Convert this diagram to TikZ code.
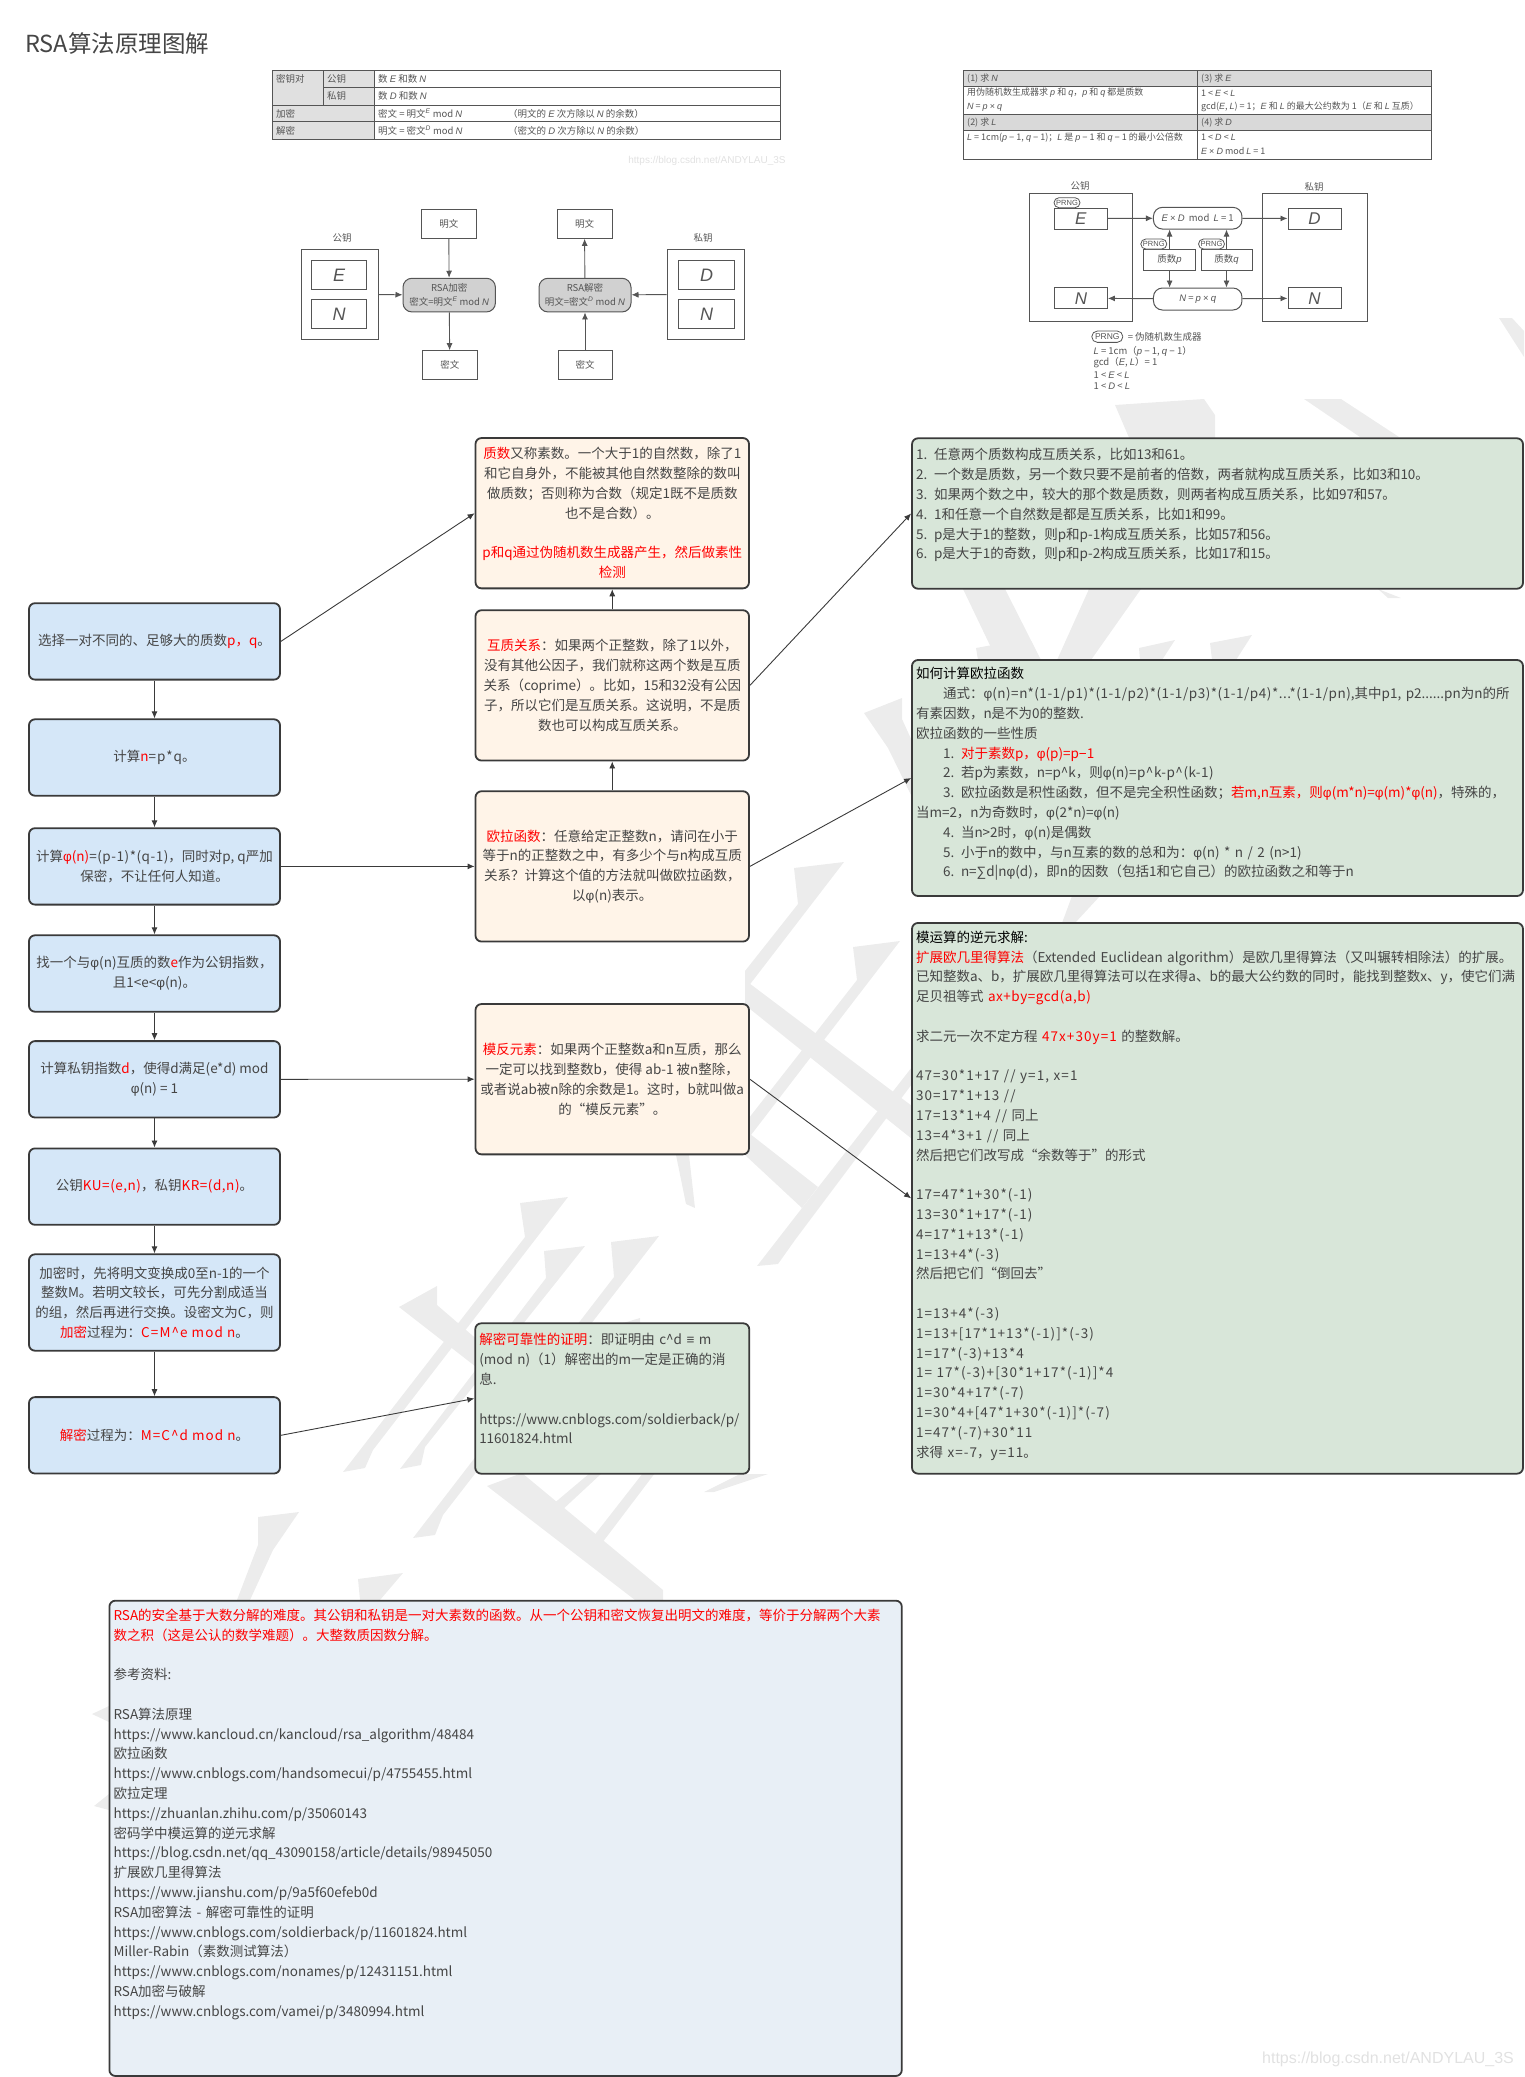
\documentclass[tikz,border=0pt]{standalone}
\usepackage{xcolor}
\usepackage{fontspec}
\setmainfont{Noto Sans CJK SC}
\newfontfamily\ltnfont{Liberation Sans}
\usetikzlibrary{calc}
\usetikzlibrary{arrows.meta}
\usetikzlibrary{positioning}
\hyphenpenalty=10000
\exhyphenpenalty=10000
\definecolor{flowblue}{HTML}{D5E7F8}
\definecolor{noteorange}{HTML}{FFF4E8}
\definecolor{notegreen}{HTML}{D8E6D9}
\definecolor{refblue}{HTML}{E8EFF6}
\definecolor{edgegray}{HTML}{3A3A3A}
\definecolor{textgray}{HTML}{454545}
\definecolor{wmgray}{HTML}{ECECEC}
\definecolor{scangray}{HTML}{555555}
\newcommand{\rd}[1]{\textcolor{red}{#1}}
\newcommand{\iv}[1]{{\ltnfont\itshape #1}}
\newcommand{\lt}[1]{{\ltnfont #1}}
\newcommand{\ph}{{\ltnfont φ}}
\newcommand{\pw}{\textasciicircum{}}
\newcommand{\fm}[1]{{\addfontfeature{LetterSpace=8}#1}}
\newcommand{\fs}[1]{{\addfontfeature{LetterSpace=4}#1}}
\tikzset{>=latex}
\tikzstyle{fontmain} = [font = \fontsize{13.5}{19.8}\selectfont]
\tikzstyle{box} = [draw = edgegray, line width = 1.8, rounded corners = 6, inner sep = 4, fontmain, text = textgray, align = center]
\tikzstyle{flowbox} = [box, fill = flowblue, minimum width = 251, minimum height = 76.4]
\tikzstyle{midbox} = [box, fill = noteorange, minimum width = 273.5, minimum height = 150.3]
\tikzstyle{notebox} = [box, fill = notegreen, align = left]
\tikzstyle{link} = [-{Latex[length = 7, width = 6]}, draw = edgegray, line width = 0.9]
\tikzstyle{scantxt} = [font = \fontsize{9.5}{14}\selectfont, text = scangray, inner sep = 0]
\tikzstyle{tabtxt} = [scantxt, anchor = west]
\tikzstyle{scanbox} = [draw = scangray, line width = 1, scantxt, fill = white]
\tikzstyle{scanpill} = [scanbox, rounded corners = 9, fill = white]
\tikzstyle{scanlink} = [-{Latex[length = 7, width = 6]}, draw = scangray, line width = 0.9]
\tikzstyle{prng} = [draw = scangray, line width = 0.8, rounded corners = 5, inner sep = 0, minimum width = 26, minimum height = 10, font = \fontsize{7.5}{9}\selectfont\ltnfont, text = scangray, fill = white]
\tikzstyle{markurl} = [font = \ltnfont\fontsize{10}{12}\selectfont, text = wmgray!90!gray, inner sep = 0]

\begin{document}
\begin{tikzpicture}[x = 1pt, y = -1pt]
\useasboundingbox (0, 0) rectangle (1524, 2077);

% watermark behind the boxes
\fill [wmgray] (520,1203) -- (568,1197) -- (373,1450) -- (365,1468) -- (343,1472) -- (525,1237) -- cycle;
\fill [wmgray] (544,1251) -- (585,1246) -- (425,1447) -- (421,1465) -- (400,1469) -- (546,1278) -- cycle;
\fill [wmgray] (611,1242) -- (659,1236) -- (443,1515) -- (435,1535) -- (413,1538) -- (614,1277) -- cycle;
\fill [wmgray] (399,1307) -- (437,1286) -- (437,1305) -- (480,1342) -- (480,1370) -- cycle;
\fill [wmgray] (487,1486) -- (522,1473) -- (663,1590) -- (663,1600) -- (635,1600) -- cycle;
\fill [wmgray] (552,1505) -- (590,1473) -- (602,1473) -- (560,1512) -- cycle;
\fill [wmgray] (593,1537) -- (643,1473) -- (655,1473) -- (602,1543) -- cycle;
\fill [wmgray] (623,1323) -- (640,1318) -- (640,1323) -- cycle;
\fill [wmgray] (704,1492) -- (714,1492) -- (768,1474) -- (740,1474) -- cycle;
\fill [wmgray] (258,1517) -- (299,1512) -- (273,1550) -- (250,1600) -- (237,1600) -- (258,1545) -- cycle;
\fill [wmgray] (358,1579) -- (403,1573) -- (380,1600) -- (360,1600) -- cycle;
\fill [wmgray] (92,1714) -- (109,1706) -- (109,1722) -- cycle;
\fill [wmgray] (94,1806) -- (109,1794) -- (109,1810) -- cycle;
\fill [wmgray] (1499,318) -- (1512,318) -- (1524,331) -- (1524,357) -- cycle;
\fill [wmgray] (1115,405) -- (1204,399) -- (1215,415) -- (1215,440) -- (1130,440) -- cycle;
\fill [wmgray] (1304,399) -- (1341,399) -- (1399,437) -- (1360,437) -- cycle;
\fill [wmgray] (963,589) -- (1005,589) -- (1041,660) -- (997,660) -- cycle;
\fill [wmgray] (1089,589) -- (1141,589) -- (1091,660) -- (1057,660) -- cycle;
\fill [wmgray] (1378,589) -- (1401,598) -- (1388,598) -- cycle;
\fill [wmgray] (976,648) -- (1020,640) -- (1010,660) -- (978,660) -- cycle;
\fill [wmgray] (1139,648) -- (1175,640) -- (1162,660) -- (1140,660) -- cycle;
\fill [wmgray] (1210,643) -- (1252,635) -- (1236,660) -- (1212,660) -- cycle;
\fill [wmgray] (1072,896) -- (1100,896) -- (1075,923) -- (1062,923) -- cycle;
\fill [wmgray] (864,713) -- (902,698) -- (902,719) -- (912,741) -- (912,797) -- (888,748) -- cycle;
\fill [wmgray] (794,868) -- (844,862) -- (751,983) -- (745,990) -- (745,971) -- (798,904) -- cycle;
\fill [wmgray] (853,947) -- (900,941) -- (751,1135) -- (745,1140) -- (745,1123) -- (857,980) -- cycle;
\fill [wmgray] (745,980) -- (912,1106) -- (912,1139) -- (745,1005) -- cycle;
\fill [wmgray] (912,1067) -- (802,1208) -- (757,1266) -- (778,1264) -- (795,1240) -- (912,1084) -- cycle;
\fill [wmgray] (745,1130) -- (818,1187) -- (802,1208) -- (745,1155) -- cycle;
\fill [wmgray] (676,1155) -- (689,1155) -- (695,1208) -- (686,1204) -- cycle;

\node [font = \fontsize{23.5}{28}\selectfont, text = textgray, inner sep = 0, anchor = west] (title) at (25, 44) {RSA算法原理图解};

% key table, left
\fill [black!12] (272, 70) rectangle (374.5, 139);
\draw [scangray, line width = 0.9] (272, 70) rectangle (780, 139) (323, 70) -- (323, 105) (374.5, 70) -- (374.5, 139) (323, 87.5) -- (780, 87.5) (272, 105) -- (780, 105) (272, 121) -- (780, 121);
\node [tabtxt] (ta) at (276, 79) {密钥对};
\node [tabtxt] (tb) at (327, 79) {公钥};
\node [tabtxt] (tc) at (327, 96) {私钥};
\node [tabtxt] (td) at (276, 113.5) {加密};
\node [tabtxt] (te) at (276, 130.5) {解密};
\node [tabtxt] (tf) at (378, 79) {数 \iv{E} 和数 \iv{N}};
\node [tabtxt] (tg) at (378, 96) {数 \iv{D} 和数 \iv{N}};
\node [tabtxt] (th) at (378, 113.5) {密文 = 明文\textsuperscript{\iv{E}} mod \iv{N}};
\node [tabtxt] (ti) at (378, 130.5) {明文 = 密文\textsuperscript{\iv{D}} mod \iv{N}};
\node [tabtxt] (tj) at (508, 113.5) {（明文的 \iv{E} 次方除以 \iv{N} 的余数）};
\node [tabtxt] (tk) at (508, 130.5) {（密文的 \iv{D} 次方除以 \iv{N} 的余数）};
\node [markurl] (urla) at (707, 161) {https://blog.csdn.net/ANDYLAU\_3S};

% encrypt and decrypt
\node [scantxt] (publab) at (342, 238) {公钥};
\node [scanbox, minimum width = 76.5, minimum height = 90] (pub) at (339.8, 294.3) {};
\node [scanbox, minimum width = 54.5, minimum height = 28.6, font = \fontsize{18}{20}\selectfont] (pube) at (339, 275) {\iv{E}};
\node [scanbox, minimum width = 54.5, minimum height = 28.6, font = \fontsize{18}{20}\selectfont] (pubn) at (339, 314) {\iv{N}};
\node [scanbox, minimum width = 55.5, minimum height = 29] (plaina) at (448.75, 223.8) {明文};
\node [scanpill, fill = black!18, minimum width = 92.4, minimum height = 33.7, align = center] (enc) at (449.2, 295.1) {RSA加密\\密文=明文\textsuperscript{\iv{E}} mod \iv{N}};
\node [scanbox, minimum width = 55.5, minimum height = 28.6] (ciphera) at (449.75, 365) {密文};
\node [scanbox, minimum width = 55, minimum height = 29] (plainb) at (584.5, 223.8) {明文};
\node [scanpill, fill = black!18, minimum width = 92, minimum height = 33.7, align = center] (dec) at (585, 295.1) {RSA解密\\明文=密文\textsuperscript{\iv{D}} mod \iv{N}};
\node [scanbox, minimum width = 54, minimum height = 28.6] (cipherb) at (585, 365) {密文};
\node [scantxt] (prilab) at (703, 238) {私钥};
\node [scanbox, minimum width = 77, minimum height = 90] (pri) at (705.5, 294.3) {};
\node [scanbox, minimum width = 56, minimum height = 28.6, font = \fontsize{18}{20}\selectfont] (prid) at (706.6, 275) {\iv{D}};
\node [scanbox, minimum width = 56, minimum height = 28.6, font = \fontsize{18}{20}\selectfont] (prin) at (706.6, 314) {\iv{N}};
\draw [scanlink] (plaina) to (enc);
\draw [scanlink] (enc) to (ciphera);
\draw [scanlink] (pub) to (enc);
\draw [scanlink] (dec) to (plainb);
\draw [scanlink] (cipherb) to (dec);
\draw [scanlink] (pri) to (dec);

% key generation table, right
\fill [black!15] (963.7, 70) rectangle (1431.6, 86.7) (963.7, 114.3) rectangle (1431.6, 130.3);
\draw [scangray, line width = 0.9] (963.7, 70) rectangle (1431.6, 159) (1197.7, 70) -- (1197.7, 159) (963.7, 86.7) -- (1431.6, 86.7) (963.7, 114.3) -- (1431.6, 114.3) (963.7, 130.3) -- (1431.6, 130.3);
\node [tabtxt, font = \fontsize{9}{11}\selectfont] (ua) at (967, 78.5) {(1) 求 \iv{N}};
\node [tabtxt, font = \fontsize{9}{11}\selectfont] (ub) at (967, 93) {用伪随机数生成器求 \iv{p} 和 \iv{q}，\iv{p} 和 \iv{q} 都是质数};
\node [tabtxt, font = \fontsize{9}{11}\selectfont] (uc) at (967, 107) {\iv{N} = \iv{p} \lt{×} \iv{q}};
\node [tabtxt, font = \fontsize{9}{11}\selectfont] (ud) at (967, 122.5) {(2) 求 \iv{L}};
\node [tabtxt, font = \fontsize{9}{11}\selectfont] (ue) at (967, 137.7) {\iv{L} = 1cm(\iv{p} \lt{−} 1, \iv{q} \lt{−} 1)；\iv{L} 是 \iv{p} \lt{−} 1 和 \iv{q} \lt{−} 1 的最小公倍数};
\node [tabtxt, font = \fontsize{9}{11}\selectfont] (uf) at (1201, 78.5) {(3) 求 \iv{E}};
\node [tabtxt, font = \fontsize{9}{11}\selectfont] (ug) at (1201, 93) {1 < \iv{E} < \iv{L}};
\node [tabtxt, font = \fontsize{9}{11}\selectfont] (uh) at (1201, 107) {gcd(\iv{E}, \iv{L}) = 1；\iv{E} 和 \iv{L} 的最大公约数为 1（\iv{E} 和 \iv{L} 互质）};
\node [tabtxt, font = \fontsize{9}{11}\selectfont] (ui) at (1201, 122.5) {(4) 求 \iv{D}};
\node [tabtxt, font = \fontsize{9}{11}\selectfont] (uj) at (1201, 137.7) {1 < \iv{D} < \iv{L}};
\node [tabtxt, font = \fontsize{9}{11}\selectfont] (uk) at (1201, 151) {\iv{E} \lt{×} \iv{D} mod \iv{L} = 1};

% key generation
\node [scantxt] (gpublab) at (1080, 185.7) {公钥};
\node [scanbox, minimum width = 103.8, minimum height = 127.6] (gpub) at (1080.9, 257.5) {};
\node [scantxt] (gprilab) at (1314, 186.5) {私钥};
\node [scanbox, minimum width = 105, minimum height = 127.6] (gpri) at (1314.5, 257.5) {};
\node [scanbox, minimum width = 52.6, minimum height = 21, font = \fontsize{17}{19}\selectfont] (ge) at (1080.7, 218.5) {\iv{E}};
\node [scanbox, minimum width = 53, minimum height = 21, font = \fontsize{17}{19}\selectfont] (gn) at (1080.9, 298.2) {\iv{N}};
\node [scanbox, minimum width = 53, minimum height = 21, font = \fontsize{17}{19}\selectfont] (gd) at (1314.5, 218.5) {\iv{D}};
\node [scanbox, minimum width = 53, minimum height = 21, font = \fontsize{17}{19}\selectfont] (gm) at (1314.5, 298.2) {\iv{N}};
\node [scanpill, minimum width = 88.5, minimum height = 21.7] (ged) at (1197.7, 218.2) {\iv{E} \lt{×} \iv{D}\ \ mod\ \ \iv{L} = 1};
\node [scanpill, minimum width = 88.5, minimum height = 22] (gnpq) at (1197.7, 299) {\iv{N} = \iv{p} \lt{×} \iv{q}};
\node [scanbox, minimum width = 52.2, minimum height = 20.7] (gp) at (1169.6, 259.7) {质数\iv{p}};
\node [scanbox, minimum width = 51, minimum height = 20.7] (gq) at (1226.5, 259.7) {质数\iv{q}};
\node [prng] (prnge) at (1067, 202.7) {PRNG};
\node [prng] (prngp) at (1153.8, 244) {PRNG};
\node [prng] (prngq) at (1211.5, 244) {PRNG};
\draw [scanlink] (ge) to (ged);
\draw [scanlink] (ged) to (gd);
\draw [scanlink] (gnpq) to (gn);
\draw [scanlink] (gnpq) to (gm);
\draw [scanlink] (gp.north) to (gp.north |- ged.south);
\draw [scanlink] (gq.north) to (gq.north |- ged.south);
\draw [scanlink] (gp.south) to (gp.south |- gnpq.north);
\draw [scanlink] (gq.south) to (gq.south |- gnpq.north);
\node [prng, minimum width = 31, minimum height = 11.3, rounded corners = 5.5, font = \fontsize{8.5}{10}\selectfont\ltnfont] (prngk) at (1107.3, 336.7) {PRNG};
\node [tabtxt] (va) at (1127.6, 337) {= 伪随机数生成器};
\node [tabtxt] (vb) at (1093.4, 351.7) {\iv{L} = 1cm（\iv{p} \lt{−} 1, \iv{q} \lt{−} 1）};
\node [tabtxt] (vc) at (1093.4, 363) {gcd（\iv{E}, \iv{L}）= 1};
\node [tabtxt] (vd) at (1093.4, 375) {1 < \iv{E} < \iv{L}};
\node [tabtxt] (ve) at (1093.4, 386) {1 < \iv{D} < \iv{L}};

% left column
\node [flowbox] (pick) at (154.5, 641.4) {选择一对不同的、足够大的质数\rd{p，q}。};
\node [flowbox] (mult) at (154.5, 757.5) {计算\rd{n}\fm{=p*q}。};
\node [flowbox] (euler) at (154.5, 866.4) {计算\rd{\ph(n)}\fs{=(p-1)*(q-1)}，同时对p, q严加\\保密，不让任何人知道。};
\node [flowbox] (pube) at (154.5, 973.5) {找一个与\ph(n)互质的数\rd{e}作为公钥指数，\\且1<e<\ph(n)。};
\node [flowbox] (prie) at (154.5, 1079.3) {计算私钥指数\rd{d}，使得d满足(e*d) mod\\\ph(n) = 1};
\node [flowbox] (pair) at (154.5, 1186.6) {公钥\rd{\fs{KU=(e,n)}}，私钥\rd{\fs{KR=(d,n)}}。};
\node [flowbox, minimum height = 96.4] (encr) at (154.5, 1302.5) {加密时，先将明文变换成0至n-1的一个\\整数M。若明文较长，可先分割成适当\\的组，然后再进行交换。设密文为C，则\\\rd{加密}过程为：\rd{\fm{C=M\pw e mod n}}。};
\node [flowbox] (decr) at (154.5, 1435.3) {\rd{解密}过程为：\rd{\fm{M=C\pw d mod n}}。};

% middle column
\node [midbox] (prime) at (612.25, 513.2) {\rd{质数}又称素数。一个大于1的自然数，除了1\\和它自身外，不能被其他自然数整除的数叫\\做质数；否则称为合数（规定1既不是质数\\也不是合数）。\\\mbox{}\\\rd{p和q通过伪随机数生成器产生，然后做素性}\\\rd{检测}};
\node [midbox] (copr) at (612.25, 685.4) {\rd{互质关系}：如果两个正整数，除了1以外，\\没有其他公因子，我们就称这两个数是互质\\关系（coprime）。比如，15和32没有公因\\子，所以它们是互质关系。这说明，不是质\\数也可以构成互质关系。};
\node [midbox] (phi) at (612.25, 866.4) {\rd{欧拉函数}：任意给定正整数n，请问在小于\\等于n的正整数之中，有多少个与n构成互质\\关系？计算这个值的方法就叫做欧拉函数，\\以\ph(n)表示。};
\node [midbox] (inv) at (612.25, 1079.2) {\rd{模反元素}：如果两个正整数a和n互质，那么\\一定可以找到整数b，使得 ab-1 被n整除，\\或者说ab被n除的余数是1。这时，b就叫做a\\的“模反元素”。};
\node [notebox, minimum width = 273.5, minimum height = 150.4, text width = 266] (proof) at (612.25, 1398.5) {\rd{解密可靠性的证明}：即证明由 c\pw d \lt{≡} m\\(mod n)（1）解密出的m一定是正确的消\\息.\\\mbox{}\\https://www.cnblogs.com/soldierback/p/\\11601824.html\\\mbox{}};

% right column
\node [notebox, minimum width = 611, minimum height = 150.4, text width = 603] (rules) at (1217.5, 513.5) {1. 任意两个质数构成互质关系，比如13和61。\\2. 一个数是质数，另一个数只要不是前者的倍数，两者就构成互质关系，比如3和10。\\3. 如果两个数之中，较大的那个数是质数，则两者构成互质关系，比如97和57。\\4. 1和任意一个自然数是都是互质关系，比如1和99。\\5. p是大于1的整数，则p和p-1构成互质关系，比如57和56。\\6. p是大于1的奇数，则p和p-2构成互质关系，比如17和15。\\\mbox{}};
\node [notebox, minimum width = 611, minimum height = 236, text width = 603] (calc) at (1217.5, 778) {\textcolor{black}{如何计算欧拉函数}\\\hspace*{27pt}通式：\fs{\ph(n)=n*(1-1/p1)*(1-1/p2)*(1-1/p3)*(1-1/p4)*...*(1-1/pn)},其中p1, p2......pn为n的所\\有素因数，n是不为0的整数.\\欧拉函数的一些性质\\\hspace*{27pt}1. \rd{对于素数p，\ph(p)=p\lt{−}1}\\\hspace*{27pt}2. 若p为素数，n=p\pw k，则\ph(n)\fs{=p\pw k-p\pw(k-1)}\\\hspace*{27pt}3. 欧拉函数是积性函数，但不是完全积性函数；\rd{若m,n互素，则\ph(m*n)=\ph(m)*\ph(n)}，特殊的，\\当m=2，n为奇数时，\ph(2*n)=\ph(n)\\\hspace*{27pt}4. 当n>2时，\ph(n)是偶数\\\hspace*{27pt}5. 小于n的数中，与n互素的数的总和为：\ph(n) * n / 2 (n>1)\\\hspace*{27pt}6. n=\lt{∑}d|n\ph(d)，即n的因数（包括1和它自己）的欧拉函数之和等于n\par\vspace*{8pt}};
\node [notebox, minimum width = 611, minimum height = 550.7, text width = 603] (modinv) at (1217.5, 1198.3) {\textcolor{black}{模运算的逆元求解:}\\\rd{扩展欧几里得算法}（Extended Euclidean algorithm）是欧几里得算法（又叫辗转相除法）的扩展。\\已知整数a、b，扩展欧几里得算法可以在求得a、b的最大公约数的同时，能找到整数x、y，使它们满\\足贝祖等式 \rd{\fs{ax+by=gcd(a,b)}}\\\mbox{}\\求二元一次不定方程 \rd{\fm{47x+30y=1}} 的整数解。\\\mbox{}\\\fm{47=30*1+17 // y=1, x=1}\\\fm{30=17*1+13 //}\\\fm{17=13*1+4 //} 同上\\\fm{13=4*3+1 //} 同上\\然后把它们改写成“余数等于”的形式\\\mbox{}\\\fm{17=47*1+30*(-1)}\\\fm{13=30*1+17*(-1)}\\\fm{4=17*1+13*(-1)}\\\fm{1=13+4*(-3)}\\然后把它们“倒回去”\\\mbox{}\\\fm{1=13+4*(-3)}\\\fm{1=13+[17*1+13*(-1)]*(-3)}\\\fm{1=17*(-3)+13*4}\\\fm{1= 17*(-3)+[30*1+17*(-1)]*4}\\\fm{1=30*4+17*(-7)}\\\fm{1=30*4+[47*1+30*(-1)]*(-7)}\\\fm{1=47*(-7)+30*11}\\求得 \fm{x=-7}，\fm{y=11}。\par\vspace*{5.6pt}};

% bottom box
\node [notebox, fill = refblue, minimum width = 792.4, minimum height = 475.3, text width = 784] (refs) at (505.6, 1838.3) {\rd{RSA的安全基于大数分解的难度。其公钥和私钥是一对大素数的函数。从一个公钥和密文恢复出明文的难度，等价于分解两个大素}\\\rd{数之积（这是公认的数学难题）。大整数质因数分解。}\\\mbox{}\\参考资料:\\\mbox{}\\RSA算法原理\\https://www.kancloud.cn/kancloud/rsa\_algorithm/48484\\欧拉函数\\https://www.cnblogs.com/handsomecui/p/4755455.html\\欧拉定理\\https://zhuanlan.zhihu.com/p/35060143\\密码学中模运算的逆元求解\\https://blog.csdn.net/qq\_43090158/article/details/98945050\\扩展欧几里得算法\\https://www.jianshu.com/p/9a5f60efeb0d\\RSA加密算法 - 解密可靠性的证明\\https://www.cnblogs.com/soldierback/p/11601824.html\\Miller-Rabin（素数测试算法）\\https://www.cnblogs.com/nonames/p/12431151.html\\RSA加密与破解\\https://www.cnblogs.com/vamei/p/3480994.html\par\vspace*{48pt}};

\node [markurl, font = \ltnfont\fontsize{16}{18}\selectfont] (urlb) at (1388, 2059) {https://blog.csdn.net/ANDYLAU\_3S};

\draw [link] (pick) to (mult);
\draw [link] (mult) to (euler);
\draw [link] (euler) to (pube);
\draw [link] (pube) to (prie);
\draw [link] (prie) to (pair);
\draw [link] (pair) to (encr);
\draw [link] (encr) to (decr);
\draw [link] (pick.east) to (prime.west);
\draw [link] (euler.east) to (phi.west);
\draw [link] (prie.east) to (inv.west);
\draw [link] (decr.east) to (proof.west);
\draw [link] (phi) to (copr);
\draw [link] (copr) to (prime);
\draw [link] (copr.east) to (rules.west);
\draw [link] (phi.east) to (calc.west);
\draw [link] (inv.east) to (modinv.west);
\end{tikzpicture}
\end{document}
